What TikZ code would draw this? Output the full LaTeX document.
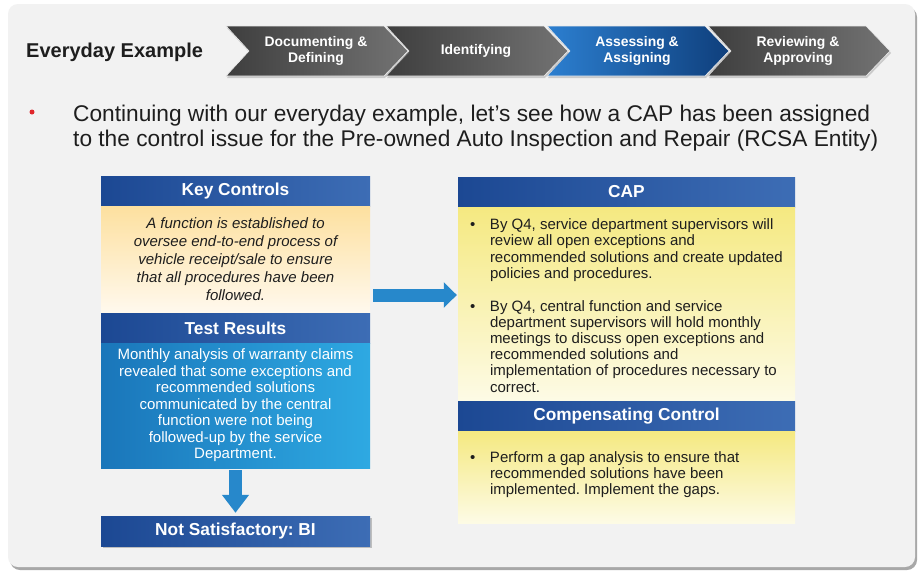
\documentclass[tikz,border=0pt]{standalone}
\usepackage{fontspec}
\setmainfont{Liberation Sans}
\usetikzlibrary{arrows.meta,shadows}
\frenchspacing
\definecolor{panel}{HTML}{F2F2F2}
\definecolor{panelshadow}{HTML}{A8A8A8}
\definecolor{hdrL}{HTML}{1C4893}
\definecolor{hdrR}{HTML}{3D6DB5}
\definecolor{chevL}{HTML}{3E3E3E}
\definecolor{chevR}{HTML}{737373}
\definecolor{bchevL}{HTML}{2C7FD0}
\definecolor{bchevR}{HTML}{0F3F7C}
\definecolor{peachA}{HTML}{FDE09F}
\definecolor{peachB}{HTML}{FFF9EE}
\definecolor{tealA}{HTML}{1A76BA}
\definecolor{tealB}{HTML}{2EA9E2}
\definecolor{yelA}{HTML}{F5E981}
\definecolor{yelB}{HTML}{FDFBE6}
\definecolor{arrowblue}{HTML}{2788CB}
\definecolor{txt}{HTML}{1E1E1E}
\definecolor{bulletred}{HTML}{E0262B}
\newcommand{\mybul}{\makebox[20pt][l]{\textbullet}}
\newcommand{\myind}{\hspace*{20pt}}
\tikzset{
  hdr/.style={rectangle, inner sep=0pt, minimum height=30pt, left color=hdrL, right color=hdrR,
    text=white, font=\bfseries\fontsize{17.3}{20}\selectfont},
  leftw/.style={minimum width=269pt},
  rightw/.style={minimum width=337pt},
  bodybox/.style={rectangle, inner sep=0pt},
  bodytxt/.style={align=left, inner sep=0pt, text=txt, font=\fontsize{15}{16.2}\selectfont},
  chevtxt/.style={align=center, inner sep=0pt, text=white, font=\bfseries\fontsize{13.9}{16.5}\selectfont},
  chevshape/.style={draw=white!85!gray, line width=0.6pt,
    drop shadow={shadow xshift=1pt, shadow yshift=-2pt, opacity=0.35}},
  blockarrow/.style={draw=arrowblue, line width=13pt}
}
\newcommand{\mychev}[2]{%
  \path[chevshape,#2] (#1,26) -- (#1+158,26) -- (#1+182,51) -- (#1+158,76) -- (#1,76) -- (#1+23,51) -- cycle;}
\begin{document}
\begin{tikzpicture}[x=1pt,y=-1pt]
\useasboundingbox (0,0) rectangle (924,576);
\fill[white] (0,0) rectangle (924,576);
% panel
\fill[panelshadow, rounded corners=10pt] (10,7) rectangle (917,570);
\fill[panel, rounded corners=10pt] (8,4) rectangle (915,567);

% title
\node[anchor=west, inner sep=0pt, text=txt, font=\bfseries\fontsize{20}{24}\selectfont] (title) at (26,52) {Everyday Example};

% chevrons
\mychev{708}{left color=chevL, right color=chevR}
\mychev{547}{left color=bchevL, right color=bchevR}
\mychev{386}{left color=chevL, right color=chevR}
\mychev{226}{left color=chevL, right color=chevR}
\node[chevtxt] (c1) at (316,51) {Documenting \&\\Defining};
\node[chevtxt] (c2) at (476,51) {Identifying};
\node[chevtxt] (c3) at (637,51) {Assessing \&\\Assigning};
\node[chevtxt] (c4) at (798,51) {Reviewing \&\\Approving};

% intro bullet
\node[circle, fill=bulletred, minimum size=5pt, inner sep=0pt] (dot) at (32,112) {};
\node[anchor=west, align=left, inner sep=0pt, text=txt, font=\fontsize{22.7}{25}\selectfont] (intro) at (73,128.5)
  {Continuing with our everyday example, let’s see how a CAP has been assigned\\to the control issue for the Pre-owned Auto Inspection and Repair (RCSA Entity)};

% left column
\node[hdr, leftw] (kch) at (235.5,191) {Key Controls};
\node[bodybox, leftw, minimum height=107pt, shading angle=135, top color=peachA, bottom color=peachB,
  align=center, text=txt, font=\itshape\fontsize{15}{18}\selectfont] (kcb) at (235.5,259.5)
  {A function is established to\\oversee end-to-end process of\\vehicle receipt/sale to ensure\\that all procedures have been\\followed.};
\node[hdr, leftw] (trh) at (235.5,328) {Test Results};
\node[bodybox, leftw, minimum height=125pt, left color=tealA, right color=tealB,
  align=center, text=white, font=\fontsize{15}{16.5}\selectfont] (trb) at (235.5,405.5)
  {Monthly analysis of warranty claims\\revealed that some exceptions and\\recommended solutions\\communicated by the central\\function were not being\\followed-up by the service\\Department.};
\node[hdr, leftw, drop shadow={shadow xshift=2pt, shadow yshift=-2pt, opacity=0.45}] (ns) at (235.5,531) {Not Satisfactory: BI};

% right column
\node[hdr, rightw] (caph) at (626.5,192) {CAP};
\node[bodybox, rightw, minimum height=194pt, shading angle=135, top color=yelA, bottom color=yelB] (capb) at (626.5,304.5) {};
\node[bodytxt, anchor=west] (captxt) at ([xshift=12pt, yshift=-1pt]capb.west)
  {\mybul By Q4, service department supervisors will\\
   \myind review all open exceptions and\\
   \myind recommended solutions and create updated\\
   \myind policies and procedures.\\[16.5pt]
   \mybul By Q4, central function and service\\
   \myind department supervisors will hold monthly\\
   \myind meetings to discuss open exceptions and\\
   \myind recommended solutions and\\
   \myind implementation of procedures necessary to\\
   \myind correct.};
\node[hdr, rightw] (cch) at (626.5,416.5) {Compensating Control};
\node[bodybox, rightw, minimum height=92pt, shading angle=135, top color=yelA, bottom color=yelB] (ccb) at (626.5,477.5) {};
\node[bodytxt, anchor=west] (cctxt) at ([xshift=12pt, yshift=3pt]ccb.west)
  {\mybul Perform a gap analysis to ensure that\\
   \myind recommended solutions have been\\
   \myind implemented. Implement the gaps.};

% connectors
\draw[blockarrow, -{Triangle[width=26pt, length=18pt]}] ([yshift=-2pt]trb.south) -- ([yshift=3pt]ns.north);
\coordinate (ra) at (373,295);
\draw[blockarrow, -{Triangle[width=25pt, length=13pt]}] (ra) -- ([xshift=-1pt]capb.west |- ra);
\end{tikzpicture}
\end{document}
